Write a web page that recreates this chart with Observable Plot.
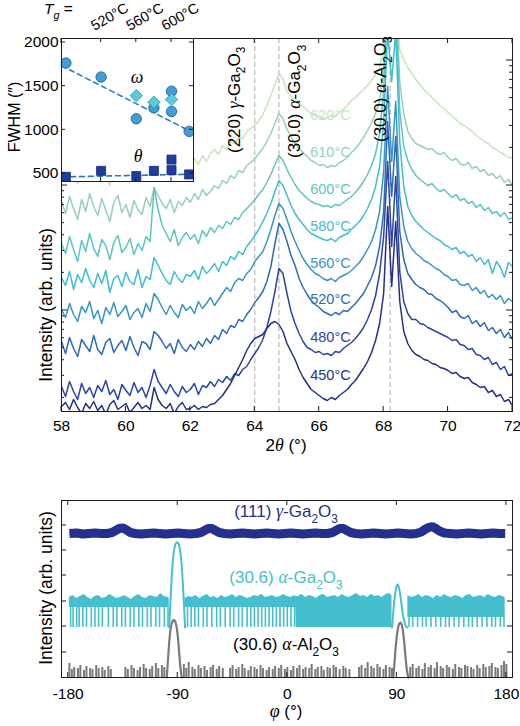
<!DOCTYPE html>
<html>
<head>
<meta charset="utf-8">
<script src="https://cdn.jsdelivr.net/npm/d3@7"></script>
<script src="https://cdn.jsdelivr.net/npm/@observablehq/plot@0.6"></script>
<style>
  html, body { margin: 0; padding: 0; background: #fff; }
  #wrap { position: relative; width: 520px; height: 726px; overflow: hidden; background:#fff; }
  #wrap > svg { position: absolute; left: 0; overflow: visible; }
</style>
</head>
<body>
<div id="wrap"></div>
<script>
// ================= DATA =================
// 2θ scans (log intensity, offset, arb. units) sampled on a regular 2θ grid
const twoThetaStart = 58, twoThetaStep = 0.125;
const twoThetaTicks = [58, 60, 62, 64, 66, 68, 70, 72];
const growthTemps = ["450°C", "480°C", "520°C", "560°C", "580°C", "600°C", "610°C", "620°C"];
const I450 = [5,9,2,12,4,-2,8,3, 10,1,6,-3,7,11,2,5, 8,-1,4,9,3,6,2, 24, 12,6,3,8,-2,5,9,2, 3,6,2,5,4,7,8,12,
  16,22,28,36,44,52,61,68, 73,75,77,83,88,90, 87,80,68,60,52,42,34,28,22,19, 16,13,11,14,12,16,19,22,
  27,31,37,43,50,59,71,88, 118,205,125,190,110,80,68,61, 57,55,52,51,48,47,44,43, 41,38,39,35,33,34,29,27, 24,25,19,21,15,17,10,12,6];
const I480 = [25,15,30,20,12,28,18,24, 14,26,20,31,17,22,12,27, 21,16,29,19,24,14,26, 42, 30,24,18,27,20,15,25,19, 22,28,17,26,24,30,25,32,
  29,35,31,38,36,42,45,52, 58,64,72,84,100,120, 143,138,118,100,88,78,70,64,62,59, 60,57,58,56,60,59,63,66,
  69,73,78,84,92,102,116,138, 175,250,165,235,140,110,98,92, 92,88,87,84,82,80,78,76, 74,71,72,67,66,62,63,57, 56,52,54,47,49,42,45,36,38];
const I520 = [70,58,74,63,55,72,66,60, 76,62,57,69,73,59,66,71, 61,75,64,56,70,68,62, 80, 76,70,63,68,58,72,64,60, 67,62,70,65,73,68,76,72,
  82,78,86,84,92,90,97,102, 109,114,120,130,145,168, 188,182,170,156,146,133,124,117,111,107, 104,100,98,96,99,97,101,100,
  104,108,113,118,126,134,146,165, 200,290,215,275,180,152,138,132, 127,124,122,118,117,113,111,108, 104,99,101,95,93,96,88,91, 85,89,81,84,78,82,74,79,72];
const I560 = [102,94,108,97,90,105,99,110, 93,101,88,104,97,109,95,100, 106,92,99,103,94,108,100, 118, 112,104,97,106,99,94,107,101, 105,98,110,103,108,114,106,112,
  118,124,120,129,133,131,138,142, 150,155,160,170,182,196, 208,203,192,180,170,161,153,147,142,138, 136,133,131,133,130,134,136,138,
  141,145,149,155,162,170,182,200, 240,325,250,310,215,185,170,163, 158,155,151,149,146,143,141,137, 135,131,132,127,126,128,121,124, 118,121,114,117,112,116,108,113,110];
const I580 = [134,126,140,122,137,129,143,131, 124,138,128,141,119,133,136,125, 139,130,127,142,124,135,132, 154, 146,138,131,127,140,133,129,137, 135,141,132,145,138,142,148,140,
  150,146,155,152,160,157,165,170, 176,182,190,198,208,220, 231,226,216,206,198,192,187,182,178,176, 174,172,171,173,170,174,176,178,
  182,186,190,196,203,212,225,245, 290,380,330,380,270,225,205,196, 190,186,182,179,176,173,171,167, 165,162,164,158,160,155,157,150, 154,147,152,138,150,144,134,149,145];
const I600 = [168,158,175,162,150,171,160,178, 163,155,172,166,152,169,176,159, 164,173,157,168,161,175,170, 224, 202,186,178,170,182,166,174,179, 172,177,168,181,175,184,179,186,
  183,190,187,194,192,199,203,207, 212,217,222,229,237,247, 256,251,242,234,227,221,217,213,210,208, 207,205,206,204,207,206,209,212,
  215,219,224,230,237,246,258,278, 320,420,390,420,300,265,251,242, 236,232,229,226,228,223,220,222, 218,214,217,211,213,208,210,204, 207,201,204,198,200,195,199,192,194];
const I610 = [210,198,215,203,192,212,200,218, 205,196,213,201,190,209,216,199, 207,194,211,202,197,214,205, 224, 216,208,203,212,199,210,206,214, 209,218,212,222,216,220,226,223,
  231,228,236,233,241,239,246,249, 253,258,263,270,278,288, 298,293,282,275,268,263,259,255,251,249, 246,247,244,246,245,249,251,254,
  259,263,268,274,281,289,298,311, 340,420,400,420,330,298,280,273, 268,266,264,262,263,259,257,259, 254,251,253,248,246,249,243,245, 240,242,236,238,233,236,229,232,226];
const I620 = [244,232,250,238,228,247,236,252, 240,230,248,235,226,245,251,234, 242,229,247,237,231,249,241, 256, 250,243,238,247,233,245,240,249, 244,253,247,256,250,258,262,257,
  266,262,270,268,274,273,280,283, 286,291,297,306,316,327, 338,333,320,315,312,309,305,301,298,296, 295,293,294,296,295,299,302,306,
  311,314,318,322,326,331,337,343, 362,420,410,420,362,352,344,338, 332,327,322,318,314,310,306,303, 299,295,292,288,286,283,280,276, 273,270,268,264,262,259,257,254,254];
const scanColors = ["#23308a", "#2a45a6", "#2d69b7", "#3694c9", "#41bdd2", "#5ec4bf", "#93d1b6", "#c6e5bf"];
const tempLabelLevels = [36, 74, 112, 148, 185, 222, 259, 296];
const tempLabelTheta = 65.72;
const refPeaks = [64.0, 64.75, 68.2];
const logDecades = [-24, 101, 226, 351];   // decade levels of the log intensity axis
const logDecadeSpan = 125;

// inset: FWHM vs growth temperature
const fwhmTicks = [500, 1000, 1500, 2000];
const tgTicks = [520, 560, 600];
const omegaCircleT = [480, 520, 560, 580, 600, 600, 620];
const omegaCircleW = [1765, 1605, 1127, 1252, 1442, 1210, 982];
const omegaDiamondT = [560, 580, 600];
const omegaDiamondW = [1392, 1316, 1347];
const thetaSquareT = [480, 520, 560, 580, 600, 600, 620];
const thetaSquareW = [462, 530, 470, 530, 659, 538, 489];
const omegaFitT = [475, 625], omegaFitW = [1735, 965];
const thetaFitT = [475, 625], thetaFitW = [460, 492];

// φ scans
const phiTicks = [-180, -90, 0, 90, 180];
const phiYTicks = [25, 51, 76, 102, 127, 152];
const navyBand = [[-179,144],[-173,144.5],[-168,143.5],[-163,144],[-158,144.5],[-153,144],[-148,144],[-144,145],[-141,147],[-138,149],[-135,149.5],[-132,147.5],[-129,145],[-125,144],[-120,143.5],[-115,144],[-110,144.5],[-105,144],[-100,143.5],[-95,144],[-90,144.5],[-85,144],[-80,143.5],[-75,144],[-71,145],[-68,147],[-65,149],[-62,149],[-59,147],[-56,145],[-52,144],[-47,143.5],[-42,144],[-37,144.5],[-32,144],[-27,143.5],[-22,144],[-17,144.5],[-12,144],[-7,143.5],[-2,144],[3,144.5],[8,144],[13,143.5],[18,144],[23,144.5],[28,144],[33,144],[37,145],[40,147],[43,149],[46,149],[49,147],[52,145],[56,144],[61,143.5],[66,144],[71,144.5],[76,144],[81,143.5],[86,144],[91,144.5],[96,144],[101,143.5],[106,144],[110,145.5],[113,148],[116,150],[119,151],[122,149],[125,146.5],[129,144.5],[134,144],[139,143.5],[144,144],[149,144.5],[154,144],[159,143.5],[164,144],[169,144.5],[174,144],[179,144]];
const cyanBandA = [[-179,70,80],[-176,70,82],[-173,70,79],[-170,70,81],[-167,70,83],[-164,70,80],[-161,70,78],[-158,70,81],[-155,70,82],[-152,70,79],[-149,70,80],[-146,70,83],[-143,70,81],[-140,70,79],[-137,70,80],[-134,70,82],[-131,70,80],[-128,70,78],[-125,70,81],[-122,70,83],[-119,70,80],[-116,70,79],[-113,70,82],[-110,70,81],[-107,70,80],[-104,70,84],[-101,70,81],[-98,70,80],[-97,70,79]];
const cyanBandB = [[-84,70,79],[-81,70,81],[-78,70,80],[-75,70,82],[-72,70,79],[-69,70,81],[-66,70,83],[-63,70,80],[-60,70,81],[-57,70,79],[-54,70,82],[-51,70,80],[-48,70,81],[-45,70,83],[-42,70,80],[-39,70,82],[-36,70,81],[-33,70,79],[-30,70,80],[-27,70,82],[-24,70,81],[-21,70,83],[-18,70,80],[-15,70,81],[-12,70,82],[-9,70,80],[-6,70,81],[-3,70,83],[0,70,81],[3,70,80],[6,70,82],[7,70,81],[7.5,50,81],[9,50,81],[12,50,83],[15,50,80],[18,50,82],[21,50,81],[24,50,79],[27,50,82],[30,50,83],[33,50,80],[36,50,81],[39,50,82],[42,50,80],[45,50,83],[48,50,81],[51,50,80],[54,50,82],[57,50,84],[60,50,81],[63,50,82],[66,50,80],[69,50,83],[72,50,81],[75,50,82],[78,50,80],[81,50,83],[84,50,84],[86,50,82]];
const cyanBandC = [[99,60,82],[102,60,80],[105,60,81],[108,60,83],[111,60,80],[114,60,82],[117,60,81],[120,60,79],[123,60,82],[126,60,80],[129,60,83],[132,60,81],[135,60,80],[138,60,82],[141,60,81],[144,60,79],[147,60,82],[150,60,83],[153,60,80],[156,60,81],[159,60,82],[162,60,80],[165,60,83],[168,60,81],[171,60,80],[174,60,82],[177,60,81],[179,60,80]];
const cyanDips = [[-178,70],[-176,70],[-173,70],[-171,70],[-168,70],[-165,70],[-161,70],[-158,70],[-155,70],[-152,70],[-147,70],[-143,70],[-140,70],[-136,70],[-133,70],[-129,70],[-126,70],[-122,70],[-119,70],[-115,70],[-112,70],[-108,70],[-105,70],[-101,70],[-98,70],
  [-82,70],[-79,70],[-76,70],[-73,70],[-69,70],[-66,70],[-62,70],[-58,70],[-55,70],[-51,70],[-47,70],[-44,70],[-40,70],[-37,70],[-33,70],[-30,70],[-27,70],[-24,70],[-21,70],[-18,70],[-15,70],[-12,70],[-9,70],[-6,70],[-3,70],[0,70],[3,70],[6,70],
  [100,60],[103,60],[107,60],[111,60],[114,60],[118,60],[122,60],[126,60],[130,60],[133,60],[137,60],[141,60],[145,60],[149,60],[152,60],[156,60],[160,60],[164,60],[168,60],[171,60],[175,60],[178,60]];
const cyanPeakA = [[-97,50],[-96,75],[-95,100],[-94,118],[-93,128],[-92,133],[-91,135],[-90,135],[-89,133],[-88,127],[-87,116],[-86,98],[-85,76],[-84,50]];
const cyanPeakB = [[86,50],[87.5,72],[88.5,83],[89.5,90],[90.5,93],[91.5,91],[92.5,85],[93.5,76],[95,62],[97,52],[98.5,50]];
const grayBars = [[-179,14],[-177,8],[-175,10],[-172,9],[-170,12],[-167,7],[-165,11],[-162,9],[-160,8],[-157,12],[-155,9],[-152,10],[-150,7],[-147,11],[-145,8],[-133,10],[-131,8],[-128,12],[-126,9],[-123,7],[-121,10],[-118,13],[-116,9],[-113,8],[-111,11],[-108,14],[-106,9],[-103,12],[-101,10],
  [-85,13],[-83,9],[-81,15],[-78,10],[-76,8],[-73,12],[-71,9],[-68,11],[-66,7],[-63,10],[-61,12],[-58,8],[-56,11],[-53,9],[-47,9],[-45,12],[-42,8],[-40,10],[-37,13],[-35,9],[-32,7],[-30,11],[-27,10],[-25,8],[-22,12],[-20,9],[-17,7],[-15,10],[-12,8],[-10,11],[-7,9],[-5,12],
  [-2,8],[0,10],[3,7],[5,11],[8,9],[10,12],[13,8],[15,10],[18,9],[20,13],[23,8],[25,10],[28,11],[30,7],[33,10],[35,9],[38,12],[40,10],[43,8],[46,11],[48,9],[51,8],[59,10],[61,12],[64,9],[66,15],[69,11],[71,9],[74,13],[76,10],[79,8],[81,12],[84,10],[86,9],
  [101,10],[103,13],[106,9],[108,11],[111,8],[113,14],[116,10],[118,12],[121,9],[123,15],[126,11],[128,9],[131,12],[133,10],[136,8],[138,13],[141,10],[143,9],[146,12],[148,11],[151,10],[153,8],[156,12],[158,9],[161,13],[163,10],[166,11],[168,14],[171,10],[173,9],[176,12],[178,16],[180,13]];
const grayPeakA = [[-99,0],[-98,18],[-97,36],[-96,48],[-95,54],[-94,57],[-93,57.5],[-92,56],[-91,51],[-90,42],[-89,28],[-88,12],[-87,2],[-86.5,0]];
const grayPeakB = [[87,0],[88,14],[89,30],[90,42],[91,50],[92,54],[93,55],[94,53],[95,47],[96,36],[97,22],[98,9],[99,2],[99.7,0]];

// ================= DRAWING =================
const sans = "'Liberation Sans', Arial, sans-serif";
const serif = "'Liberation Serif', 'Times New Roman', serif";
const axisColor = "#1a1a1a";
const baseStyle = {fontFamily: sans, fontSize: "15.5px", background: "transparent", color: "#000", overflow: "visible"};
const scans = [I450, I480, I520, I560, I580, I600, I610, I620];
const wrap = document.getElementById("wrap");

function rich(sel, x, y, parts, o = {}) {
  const size = o.size || 17;
  const t = sel.append("text")
    .attr("transform", `translate(${x},${y})` + (o.rotate ? ` rotate(${o.rotate})` : ""))
    .attr("text-anchor", o.anchor || "start")
    .attr("fill", o.fill || "#000")
    .attr("font-family", sans).attr("font-size", size);
  let shift = 0;
  for (const p of parts) {
    const [str, kind] = typeof p === "string" ? [p, null] : p;
    const s = t.append("tspan").text(str);
    let target = 0;
    if (kind === "sub") { target = size * 0.33; s.attr("font-size", size * 0.7); }
    if (kind === "it") s.attr("font-family", serif).attr("font-style", "italic").attr("font-size", size * 1.05);
    if (kind === "sit") s.attr("font-style", "italic");
    if (kind === "ssub") { target = size * 0.33; s.attr("font-size", size * 0.7).attr("font-style", "italic"); }
    if (target !== shift) { s.attr("dy", target - shift); shift = target; }
  }
  return t;
}

function frameTicks(plot, xs, ys, xlen) {
  const X = plot.scale("x"), Y = plot.scale("y");
  const [x0, x1] = X.range, [yb, yt] = Y.range;
  const g = d3.select(plot).append("g").attr("stroke", axisColor).attr("stroke-width", 1);
  const seg = (a, b, c, d) => g.append("line").attr("x1", a).attr("y1", b).attr("x2", c).attr("y2", d);
  for (const v of xs) { const p = X.apply(v); seg(p, yb, p, yb - xlen); seg(p, yt, p, yt + xlen); }
  for (const [v, l] of ys) { const p = Y.apply(v); seg(x0, p, x0 + l, p); seg(x1, p, x1 - l, p); }
  return g;
}

// ---------- main 2θ plot ----------
const mainPlot = Plot.plot({
  width: 520, height: 460, marginLeft: 61, marginRight: 8, marginTop: 38, marginBottom: 49,
  style: baseStyle,
  x: {domain: [58, 72]},
  y: {domain: [0, 373], axis: null},
  marks: [
    Plot.ruleX(refPeaks, {stroke: "#aaaaaa", strokeWidth: 1, strokeDasharray: "5,3"}),
    ...scans.map((vals, k) => ({vals, k})).reverse().map(({vals, k}) =>
      Plot.line(vals, {x: (d, i) => twoThetaStart + i * twoThetaStep, y: d => d, stroke: scanColors[k], strokeWidth: 1.5, clip: true})),
    Plot.text(growthTemps, {x: () => tempLabelTheta, y: (d, i) => tempLabelLevels[i], text: d => d,
      fill: (d, i) => scanColors[i], textAnchor: "start", fontSize: 14.5}),
    Plot.frame({stroke: axisColor, strokeWidth: 1}),
    Plot.axisX({ticks: twoThetaTicks, tickSize: 0, tickPadding: 8, label: null, fontSize: 15.5, tickFormat: d => String(d)})
  ]
});
d3.select(mainPlot).style("top", "0px");
wrap.appendChild(mainPlot);
{
  const yt = [];
  for (const b of logDecades) {
    if (b >= 0 && b <= 373) yt.push([b, 6]);
    for (let k = 2; k <= 9; k++) { const v = b + logDecadeSpan * Math.log10(k); if (v >= 0 && v <= 373) yt.push([v, 3]); }
  }
  frameTicks(mainPlot, twoThetaTicks, yt, 5);
  const X = mainPlot.scale("x");
  const s = d3.select(mainPlot);
  rich(s, X.apply(refPeaks[0]) - 14.5, 153, ["(220) ", ["γ", "it"], "-Ga", ["2", "sub"], "O", ["3", "sub"]], {rotate: -90, size: 17});
  rich(s, X.apply(refPeaks[1]) + 21.5, 158, ["(30.0) ", ["α", "it"], "-Ga", ["2", "sub"], "O", ["3", "sub"]], {rotate: -90, size: 17});
  rich(s, X.apply(refPeaks[2]) - 3.6, 142, ["(30.0) ", ["α", "it"], "-Al", ["2", "sub"], "O", ["3", "sub"]], {rotate: -90, size: 17});
  rich(s, 52, 305, ["Intensity (arb. units)"], {rotate: -90, size: 17.5, anchor: "middle"});
  rich(s, 286, 451, ["2", ["θ", "it"], " (°)"], {size: 17, anchor: "middle"});
}

// ---------- inset FWHM plot ----------
const insetPlot = Plot.plot({
  width: 200, height: 200, marginLeft: 61, marginRight: 7, marginTop: 38, marginBottom: 19,
  style: baseStyle,
  x: {domain: [475, 625], axis: null},
  y: {domain: [408, 2046], axis: null},
  marks: [
    Plot.frame({fill: "white", stroke: null}),
    Plot.line(omegaFitT, {x: d => d, y: (d, i) => omegaFitW[i], stroke: "#2b80c2", strokeWidth: 1.6, strokeDasharray: "5,4"}),
    Plot.line(thetaFitT, {x: d => d, y: (d, i) => thetaFitW[i], stroke: "#2b73c0", strokeWidth: 1.6, strokeDasharray: "5,4"}),
    Plot.dot(omegaCircleT, {x: d => d, y: (d, i) => omegaCircleW[i], r: 5.2, symbol: "circle", fill: "#3f9fd5", stroke: "#1d5590", strokeWidth: 0.8, clip: true}),
    Plot.dot(omegaDiamondT, {x: d => d, y: (d, i) => omegaDiamondW[i], r: 5.6, symbol: "diamond2", fill: "#5ccbd8", stroke: "#2a8eb0", strokeWidth: 0.8, clip: true}),
    Plot.dot(thetaSquareT, {x: d => d, y: (d, i) => thetaSquareW[i], r: 5.1, symbol: "square", fill: "#1f3c9e", stroke: "#142a78", strokeWidth: 0.8, clip: true}),
    Plot.frame({stroke: axisColor, strokeWidth: 1}),
    Plot.axisY({ticks: fwhmTicks, tickSize: 0, tickPadding: 3, anchor: "left", label: null, fontSize: 15.5, tickFormat: d => String(d)})
  ]
});
d3.select(insetPlot).style("top", "0px");
wrap.appendChild(insetPlot);
{
  frameTicks(insetPlot, tgTicks, fwhmTicks.map(v => [v, 4]), 4);
  const X = insetPlot.scale("x");
  const s = d3.select(insetPlot);
  for (const t of tgTicks) rich(s, X.apply(t) - 6, 31, [`${t}°C`], {rotate: -30, size: 14.5});
  rich(s, 44, 14, [["T", "sit"], ["g", "ssub"], " ="], {size: 15.5});
  rich(s, 20, 117, ["FWHM (\u2033)"], {rotate: -90, size: 16, anchor: "middle"});
  rich(s, 137, 83, [["ω", "it"]], {size: 17, anchor: "middle"});
  rich(s, 138, 162, [["θ", "it"]], {size: 17, anchor: "middle"});
}

// ---------- φ scans ----------
const cyan = "#45bfce", navy = "#23308e", gray = "#7a7a7a";
const bottomPlot = Plot.plot({
  width: 520, height: 266, marginLeft: 61, marginRight: 8, marginTop: 40, marginBottom: 49,
  style: baseStyle,
  x: {domain: [-185.5, 185]},
  y: {domain: [0, 177], axis: null},
  marks: [
    Plot.ruleX(grayBars, {x: d => d[0], y1: 0, y2: d => d[1], stroke: gray, strokeWidth: 2}),
    Plot.line(grayPeakA, {x: d => d[0], y: d => d[1], stroke: gray, strokeWidth: 2.2}),
    Plot.line(grayPeakB, {x: d => d[0], y: d => d[1], stroke: gray, strokeWidth: 2.2}),
    ...[cyanBandA, cyanBandB, cyanBandC].map(b => Plot.areaY(b, {x: d => d[0], y1: d => d[1], y2: d => d[2], fill: cyan})),
    Plot.ruleX(cyanDips, {x: d => d[0], y1: 50, y2: d => d[1], stroke: cyan, strokeWidth: 1.6}),
    Plot.line(cyanPeakA, {x: d => d[0], y: d => d[1], stroke: cyan, strokeWidth: 2}),
    Plot.line(cyanPeakB, {x: d => d[0], y: d => d[1], stroke: cyan, strokeWidth: 2}),
    Plot.line(navyBand, {x: d => d[0], y: d => d[1], stroke: navy, strokeWidth: 9, strokeLinecap: "butt", strokeLinejoin: "miter"}),
    Plot.frame({stroke: axisColor, strokeWidth: 1}),
    Plot.axisX({ticks: phiTicks, tickSize: 0, tickPadding: 10, label: null, fontSize: 15.5, tickFormat: d => String(d)})
  ]
});
d3.select(bottomPlot).style("top", "460px");
wrap.appendChild(bottomPlot);
{
  frameTicks(bottomPlot, phiTicks, phiYTicks.map(v => [v, 5]), 5);
  const s = d3.select(bottomPlot);
  rich(s, 286, 57, ["(111) ", ["γ", "it"], "-Ga", ["2", "sub"], "O", ["3", "sub"]], {size: 17, anchor: "middle", fill: navy});
  rich(s, 286, 123, ["(30.6) ", ["α", "it"], "-Ga", ["2", "sub"], "O", ["3", "sub"]], {size: 17, anchor: "middle", fill: cyan});
  rich(s, 286, 190, ["(30.6) ", ["α", "it"], "-Al", ["2", "sub"], "O", ["3", "sub"]], {size: 17, anchor: "middle"});
  rich(s, 52, 128, ["Intensity (arb. units)"], {rotate: -90, size: 17.5, anchor: "middle"});
  rich(s, 286, 257, [["φ", "it"], " (°)"], {size: 17, anchor: "middle"});
}
</script>
</body>
</html>
